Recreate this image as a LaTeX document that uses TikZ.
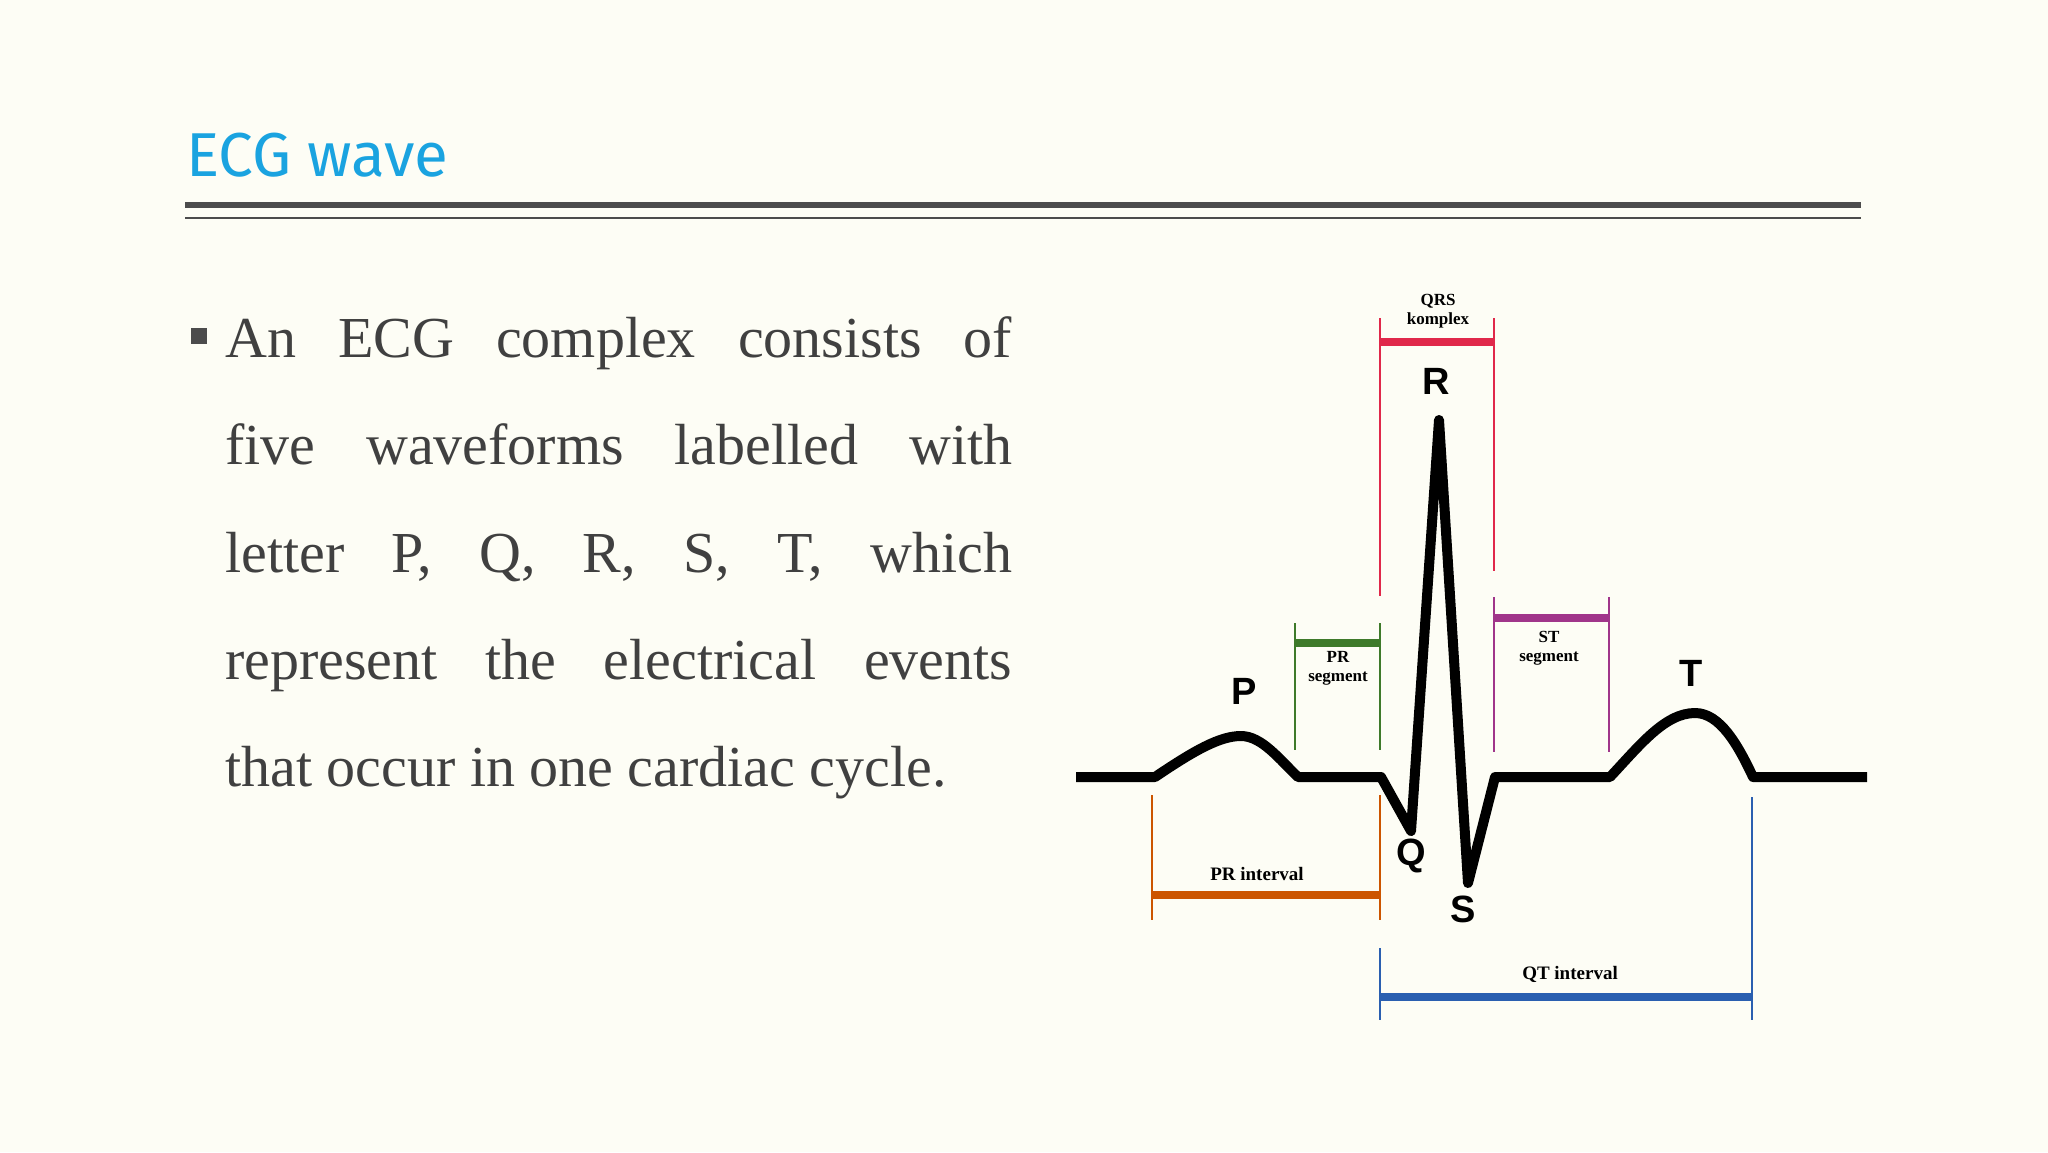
\documentclass[tikz,border=0pt]{standalone}
\usepackage{fontspec}
\setmainfont{Liberation Serif}
\newfontfamily\lsans{Liberation Sans}
\newfontfamily\tfont{Fira Sans}
\begin{document}
\begin{tikzpicture}[x=1pt,y=-1pt,
  lbl/.style={font=\bfseries\fontsize{17}{19}\selectfont,align=center,inner sep=0pt},
  big/.style={font=\lsans\bfseries\fontsize{38}{40}\selectfont,inner sep=0pt},
  tick/.style={line width=1.3pt},
  bar/.style={line width=8pt},
  body/.style={font=\fontsize{58}{60}\selectfont,text=black!75,anchor=base west,inner sep=0pt}]
\definecolor{qrs}{HTML}{E0284A}\definecolor{prs}{HTML}{3E7A2A}
\definecolor{sts}{HTML}{A0358A}\definecolor{pri}{HTML}{CC5500}\definecolor{qti}{HTML}{2A5FB0}
\fill[fill={rgb,255:red,253;green,253;blue,245}] (0,0) rectangle (2048,1152);
\useasboundingbox (0,0) rectangle (2048,1152);
\node[font=\tfont\fontsize{62}{64}\selectfont,text={rgb,255:red,26;green,163;blue,224},anchor=base west,inner sep=0pt] (title) at (186,176) {ECG wave};
\draw[line width=6pt,black!70] (185,205) -- (1861,205);
\draw[line width=1.5pt,black!70] (185,218) -- (1861,218);
\fill[black!70] (191,328) rectangle (207,344);
\node[body] (l1) at (225,357) {\makebox[787pt][s]{An ECG complex consists of}};
\node[body] (l2) at (225,464) {\makebox[787pt][s]{five waveforms labelled with}};
\node[body] (l3) at (225,572) {\makebox[787pt][s]{letter P, Q, R, S, T, which}};
\node[body] (l4) at (225,679) {\makebox[787pt][s]{represent the electrical events}};
\node[body] (l5) at (225,786) {that occur in one cardiac cycle.};
% ECG
\draw[line width=10pt,line join=round] (1076,777) -- (1155,777) .. controls (1195,750) and (1220,736) .. (1241,736) .. controls (1262,736) and (1280,760) .. (1298,777) -- (1381,777) -- (1411,831) -- (1439,420) -- (1468,883) -- (1495,777) -- (1610,777) .. controls (1640,745) and (1665,713) .. (1695,713) .. controls (1720,713) and (1738,745) .. (1753,777) -- (1867,777);
% QRS
\draw[tick,qrs] (1380,318) -- (1380,596) (1494,318) -- (1494,571);
\draw[bar,qrs] (1380,342) -- (1494,342);
\node[lbl] (qrsl) at (1438,311) {QRS\\komplex};
% PR segment
\draw[tick,prs] (1295,623) -- (1295,750) (1380,623) -- (1380,750);
\draw[bar,prs] (1295,643) -- (1380,643);
\node[lbl] (prsl) at (1338,668) {PR\\segment};
% ST segment
\draw[tick,sts] (1494,597) -- (1494,752) (1609,597) -- (1609,752);
\draw[bar,sts] (1494,618) -- (1609,618);
\node[lbl] (stsl) at (1549,648) {ST\\segment};
% PR interval
\draw[tick,pri] (1152,795) -- (1152,920) (1380,795) -- (1380,920);
\draw[bar,pri] (1152,895) -- (1380,895);
\node[lbl,font=\bfseries\fontsize{19}{21}\selectfont] (pril) at (1257,874) {PR interval};
% QT interval
\draw[tick,qti] (1380,948) -- (1380,1020) (1752,797) -- (1752,1020);
\draw[bar,qti] (1380,997) -- (1752,997);
\node[lbl,font=\bfseries\fontsize{19}{21}\selectfont] (qtil) at (1570,974) {QT interval};
\node[big] (P) at (1244,691) {P};
\node[big] (Q) at (1411,856) {Q};
\node[big] (R) at (1436,381) {R};
\node[big] (S) at (1463,909) {S};
\node[big] (T) at (1691,673) {T};
\end{tikzpicture}
\end{document}
